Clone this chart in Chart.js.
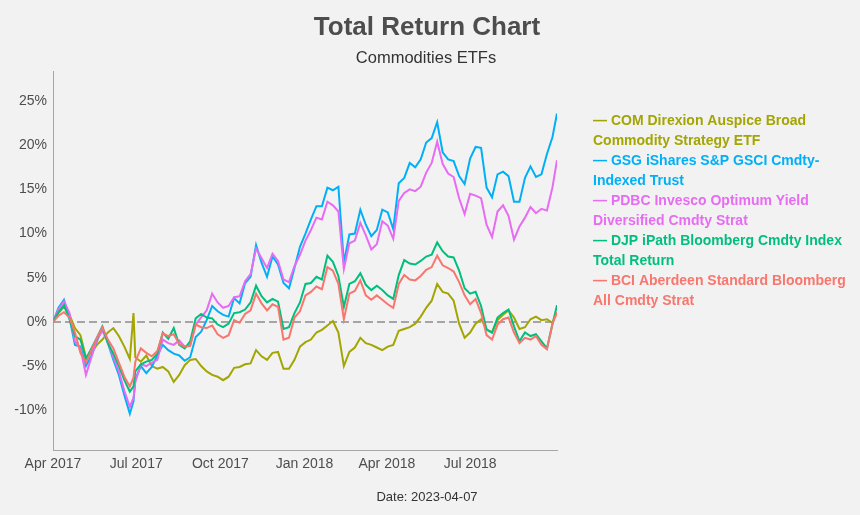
<!DOCTYPE html>
<html>
<head>
<meta charset="utf-8">
<title>Total Return Chart</title>
<script src="https://cdn.jsdelivr.net/npm/chart.js@4.4.1/dist/chart.umd.min.js"></script>
<style>
  html, body { margin: 0; padding: 0; background: #f2f2f2; }
  #wrap { width: 860px; height: 515px; }
</style>
</head>
<body>
<div id="wrap"><canvas id="chart" width="860" height="515"></canvas></div>
<script>
// Days counted from 2017-04-01
const days = [
  0, 6, 12, 18, 24, 30, 36, 42, 48, 54, 60, 66, 72, 78, 84, 88, 90, 96, 102, 108,
  114, 120, 126, 132, 138, 144, 150, 156, 162, 168, 174, 180, 186, 192, 198, 204, 210, 216, 222, 228,
  234, 240, 246, 252, 258, 264, 270, 276, 282, 288, 294, 300, 306, 312, 318, 324, 330, 336, 342, 348,
  354, 360, 366, 372, 378, 384, 390, 396, 402, 408, 414, 420, 426, 432, 438, 444, 450, 456, 462, 468,
  474, 480, 486, 492, 498, 504, 510, 516, 522, 528, 534, 540, 546, 551
];

const com = [
  0, 1.0, 1.7, 0.8, -0.7, -1.5, -4.0, -3.5, -2.6, -2.0, -1.2, -0.7, -1.6, -2.8, -4.2, 1.0, -4.0, -4.5, -3.8, -5.0,
  -5.3, -5.1, -5.6, -6.8, -6.0, -4.9, -4.3, -4.2, -5.0, -5.6, -6.0, -6.2, -6.6, -6.2, -5.2, -5.1, -4.8, -4.7, -3.2, -3.9,
  -4.3, -3.5, -3.4, -5.3, -5.3, -4.3, -2.8, -2.3, -2.0, -1.2, -0.9, -0.4, 0.1, -1.2, -5.0, -3.4, -2.9, -1.8, -2.4, -2.6,
  -2.9, -3.2, -2.8, -2.6, -1.0, -0.8, -0.6, -0.2, 0.6, 1.6, 2.4, 4.3, 3.4, 3.2, 2.4, -0.2, -1.8, -1.2, -0.2, 0.3,
  -0.8, -1.2, 0.2, 0.8, 1.3, 0.5, -0.8, -0.6, 0.3, 0.6, 0.2, 0.3, -0.1, 1.1
];

const gsg = [
  0, 1.6, 2.5, 0.5, -2.6, -2.8, -5.0, -3.8, -2.2, -0.7, -2.4, -4.3, -6.0, -8.3, -10.4, -9.0, -6.5, -5.0, -5.8, -5.1,
  -3.8, -2.6, -3.2, -3.6, -3.8, -4.4, -4.0, -1.7, -1.1, 0.2, 1.8, 1.2, 0.8, 0.6, 2.7, 2.1, 4.4, 5.1, 8.7, 6.7,
  5.1, 7.4, 6.5, 4.4, 3.8, 6.1, 8.5, 10.0, 11.6, 13.1, 13.1, 15.2, 14.9, 15.3, 6.7, 9.9, 10.0, 12.7, 11.0, 9.7,
  10.4, 12.7, 12.4, 10.5, 15.7, 16.3, 18.0, 17.5, 18.4, 20.3, 20.8, 22.6, 19.2, 18.4, 18.2, 16.5, 15.6, 18.5, 19.8, 19.7,
  15.2, 14.1, 16.7, 17.0, 16.5, 13.6, 13.6, 16.3, 17.6, 16.4, 16.7, 19.0, 20.9, 23.6
];

const pdbc = [
  0, 1.4, 2.3, 1.0, -2.2, -3.0, -6.0, -4.0, -2.0, -1.0, -2.3, -4.0, -5.6, -7.8, -9.6, -8.6, -6.8, -4.8, -5.0, -4.6,
  -4.3, -2.0, -2.4, -2.6, -2.1, -2.8, -2.6, -0.3, 0.5, 1.3, 3.2, 2.2, 1.6, 1.8, 2.8, 2.9, 4.6, 5.4, 8.3, 7.2,
  6.1, 7.7, 6.9, 4.8, 4.5, 6.3, 7.6, 9.2, 10.4, 11.8, 11.6, 13.6, 13.2, 12.5, 6.0, 8.9, 9.2, 11.2, 9.8, 8.2,
  8.8, 11.4, 10.9, 9.4, 13.7, 14.6, 15.0, 14.8, 15.3, 16.9, 18.0, 20.4, 17.9, 16.8, 16.4, 14.0, 12.2, 14.5, 14.3, 14.0,
  11.0, 9.6, 12.5, 13.2, 12.0, 9.3, 10.8, 11.8, 13.0, 12.3, 12.8, 12.6, 15.2, 18.3
];

const djp = [
  0, 1.1, 1.9, 0.3, -1.6, -2.0, -4.2, -3.0, -1.8, -0.5, -2.4, -3.6, -5.0, -6.6, -7.9, -7.3, -5.6, -4.8, -4.5, -4.3,
  -3.6, -1.2, -1.9, -0.7, -2.6, -3.0, -2.2, 0.4, 0.9, 0.5, 0.4, -0.3, -0.6, -0.2, 1.0, 1.1, 1.4, 2.2, 4.1, 2.9,
  2.2, 2.6, 2.3, -0.8, -0.6, 1.0, 2.2, 4.3, 4.4, 5.1, 4.8, 7.5, 6.8, 5.2, 1.7, 4.3, 4.6, 5.5, 4.2, 3.6,
  4.1, 3.6, 3.0, 2.6, 5.3, 7.0, 6.6, 6.5, 6.9, 7.4, 7.6, 9.0, 8.0, 7.4, 7.3, 5.8, 3.8, 3.2, 3.4, 1.8,
  -0.9, -1.2, 0.5, 1.0, 1.4, -0.5, -2.2, -1.2, -1.6, -1.4, -2.2, -3.0, -0.3, 1.9
];

const bci = [
  0, 0.7, 1.1, 0.5, -1.2, -3.5, -4.6, -3.2, -1.8, -0.6, -2.0, -3.0, -4.6, -6.2, -7.3, -6.3, -4.5, -3.0, -3.5, -3.9,
  -3.3, -1.3, -1.6, -1.4, -2.5, -2.8, -2.7, -0.3, -0.6, -0.7, -0.4, -1.4, -1.8, -1.5, 0.2, -0.1, 0.9, 1.3, 3.2, 2.1,
  1.3, 2.0, 1.7, -2.0, -1.8, 0.5, 1.2, 3.0, 3.4, 4.0, 3.7, 6.2, 5.8, 4.3, 0.3, 3.2, 3.5, 4.7, 3.0, 2.5,
  3.0, 2.5, 2.0, 1.6, 4.3, 5.3, 4.8, 4.7, 5.2, 5.9, 6.2, 7.5, 6.4, 6.1, 5.7, 4.5, 3.0, 2.0, 2.6, 1.0,
  -1.5, -2.0, -0.3, 0.3, 0.5, -1.2, -2.4, -1.8, -2.0, -1.6, -2.6, -3.1, -0.2, 1.1
];

const tickDays = [0, 91, 183, 275, 365, 456];
const tickLabels = ["Apr 2017", "Jul 2017", "Oct 2017", "Jan 2018", "Apr 2018", "Jul 2018"];
const yTicks = [-10, -5, 0, 5, 10, 15, 20, 25];

const seriesNames = [
  "COM Direxion Auspice Broad Commodity Strategy ETF",
  "GSG iShares S&P GSCI Cmdty-Indexed Trust",
  "PDBC Invesco Optimum Yield Diversified Cmdty Strat",
  "DJP iPath Bloomberg Cmdty Index Total Return",
  "BCI Aberdeen Standard Bloomberg All Cmdty Strat"
];
const legendLines = [
  ["— COM Direxion Auspice Broad", "Commodity Strategy ETF"],
  ["— GSG iShares S&P GSCI Cmdty-", "Indexed Trust"],
  ["— PDBC Invesco Optimum Yield", "Diversified Cmdty Strat"],
  ["— DJP iPath Bloomberg Cmdty Index", "Total Return"],
  ["— BCI Aberdeen Standard Bloomberg", "All Cmdty Strat"]
];
const colors = ["#a3a500", "#00b0f6", "#e76bf3", "#00bf7d", "#f8766d"];
const series = [com, gsg, pdbc, djp, bci];

const fontFamily = '"Liberation Sans", Arial, Helvetica, sans-serif';

// Titles, footer, legend and the dashed zero line
const textPlugin = {
  id: "texts",
  beforeDatasetsDraw(chart) {
    const ctx = chart.ctx;
    const area = chart.chartArea;
    const y0 = chart.scales.y.getPixelForValue(0);
    ctx.save();
    ctx.strokeStyle = "#8c8c8c";
    ctx.lineWidth = 1.5;
    ctx.setLineDash([8, 4]);
    ctx.beginPath();
    ctx.moveTo(area.left, y0);
    ctx.lineTo(area.right, y0);
    ctx.stroke();
    ctx.restore();
  },
  afterDraw(chart) {
    const ctx = chart.ctx;
    ctx.save();
    ctx.textAlign = "center";
    ctx.textBaseline = "middle";

    ctx.fillStyle = "#4d4d4d";
    ctx.font = "bold 26px " + fontFamily;
    ctx.fillText("Total Return Chart", 427, 28);

    ctx.fillStyle = "#333333";
    ctx.font = "16.5px " + fontFamily;
    ctx.fillText("Commodities ETFs", 426, 58);

    ctx.font = "13px " + fontFamily;
    ctx.fillText("Date: 2023-04-07", 427, 497);

    ctx.textAlign = "left";
    ctx.font = "bold 14px " + fontFamily;
    let y = 121.5;
    legendLines.forEach((lines, i) => {
      ctx.fillStyle = colors[i];
      lines.forEach((line) => {
        ctx.fillText(line, 593, y);
        y += 20;
      });
    });
    ctx.restore();
  }
};

const chart = document.querySelector("#chart").getContext("2d");

new Chart(chart, {
  type: "line",
  data: {
    datasets: series.map((values, i) => ({
      label: seriesNames[i],
      data: days.map((d, j) => ({ x: d, y: values[j] })),
      borderColor: colors[i],
      borderWidth: 2,
      pointRadius: 0,
      tension: 0,
      fill: false,
      order: series.length - i
    }))
  },
  options: {
    responsive: false,
    animation: false,
    layout: { padding: { top: 71, right: 303, bottom: 0, left: 0 } },
    plugins: {
      legend: { display: false },
      title: { display: false },
      tooltip: { enabled: false }
    },
    scales: {
      x: {
        type: "linear",
        min: 0,
        max: 551,
        grid: { display: false, drawTicks: false, tickLength: 0 },
        border: { display: true, color: "#a6a6a6", width: 1 },
        afterFit(scale) { scale.height = 65; },
        afterBuildTicks(scale) { scale.ticks = tickDays.map((v) => ({ value: v })); },
        ticks: {
          callback: (v) => tickLabels[tickDays.indexOf(v)],
          color: "#4d4d4d",
          font: { size: 14, family: fontFamily },
          padding: 6,
          maxRotation: 0,
          autoSkip: false
        }
      },
      y: {
        type: "linear",
        min: -14.5,
        max: 28.4,
        grid: { display: false, drawTicks: false, tickLength: 0 },
        border: { display: true, color: "#a6a6a6", width: 1 },
        afterFit(scale) { scale.width = 53; },
        afterBuildTicks(scale) { scale.ticks = yTicks.map((v) => ({ value: v })); },
        ticks: {
          callback: (v) => v + "%",
          color: "#4d4d4d",
          font: { size: 14, family: fontFamily },
          padding: 6
        }
      }
    }
  },
  plugins: [textPlugin]
});
</script>
</body>
</html>
